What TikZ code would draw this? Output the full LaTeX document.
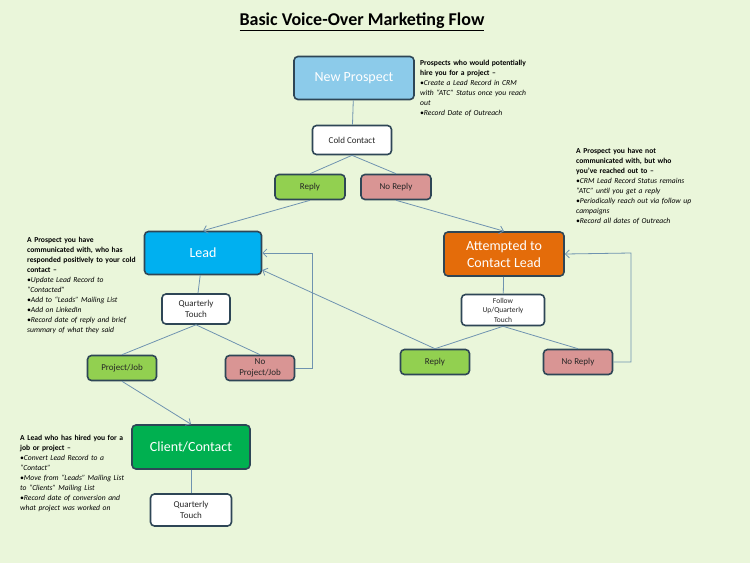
\documentclass[tikz,border=0pt]{standalone}
\usepackage{fontspec}
\setmainfont{Carlito}
\usetikzlibrary{arrows.meta}
\definecolor{bg}{HTML}{EAF6DA}
\definecolor{bd}{HTML}{2E4656}
\definecolor{ln}{HTML}{6F93B0}
\definecolor{np}{HTML}{8CCBEA}
\definecolor{gr}{HTML}{92D050}
\definecolor{pk}{HTML}{D99594}
\definecolor{ld}{HTML}{00B0F0}
\definecolor{or}{HTML}{E46C0A}
\definecolor{cl}{HTML}{00B050}
\begin{document}
\begin{tikzpicture}[x=1pt,y=-1pt,
 box/.style={draw=bd,line width=1.6pt,rounded corners=4pt,align=center,inner sep=1pt,text=black!85},
 big/.style={box,font=\fontsize{14}{17}\selectfont,text=white},
 sm/.style={box,fill=white,font=\fontsize{9}{11}\selectfont},
 ln/.style={draw=ln,line width=0.8pt},
 ar/.style={ln,-{Straight Barb[length=4pt,width=8pt]}},
 note/.style={anchor=north west,align=left,font=\fontsize{7.6}{10}\selectfont,inner sep=0pt}]
\fill[bg] (0,0) rectangle (750,563);
\node[font=\bfseries\fontsize{18}{20}\selectfont] (t) at (362,22) {\underline{Basic Voice-Over Marketing Flow}};
\node[big,fill=np,minimum width=120pt,minimum height=43pt] (np) at (354,78) {New Prospect};
\node[sm,minimum width=79pt,minimum height=29pt] (cc) at (352,140) {Cold Contact};
\node[sm,fill=gr,minimum width=70pt,minimum height=25pt] (r1) at (310,187) {Reply};
\node[sm,fill=pk,minimum width=70pt,minimum height=25pt] (n1) at (396,187) {No Reply};
\node[big,fill=ld,minimum width=117pt,minimum height=43pt] (ld) at (203,253) {Lead};
\node[big,fill=or,minimum width=120pt,minimum height=44pt] (at) at (504,254) {Attempted to\\Contact Lead};
\node[sm,minimum width=68pt,minimum height=30pt] (q1) at (196,309) {Quarterly\\Touch};
\node[sm,fill=gr,minimum width=69pt,minimum height=25pt] (pj) at (122,368) {Project/Job};
\node[sm,fill=pk,minimum width=69pt,minimum height=25pt] (npj) at (260,368) {No\\Project/Job};
\node[sm,minimum width=83pt,minimum height=31pt,font=\fontsize{7.5}{9.5}\selectfont] (fu) at (503,310) {Follow\\Up/Quarterly\\Touch};
\node[sm,fill=gr,minimum width=69pt,minimum height=25pt] (r2) at (435,362) {Reply};
\node[sm,fill=pk,minimum width=69pt,minimum height=25pt] (n2) at (578,362) {No Reply};
\node[big,fill=cl,minimum width=118pt,minimum height=44pt] (cl) at (191,447) {Client/Contact};
\node[sm,minimum width=81pt,minimum height=32pt] (q2) at (191,510) {Quarterly\\Touch};
\coordinate (a1) at (312,368); \coordinate (a2) at (312,253);
\coordinate (b1) at (631,362); \coordinate (b2) at (631,253);
\draw[ln] (np) -- (cc);
\draw[ln] (cc.south) -- (r1.north);
\draw[ln] (cc.south) -- (n1.north);
\draw[ar] (r1.south) -- (ld.north);
\draw[ar] (n1.south) -- (at.north);
\draw[ln] (ld) -- (q1);
\draw[ln] (q1.south) -- (pj.north);
\draw[ln] (q1.south) -- (npj.north);
\draw[ar] (pj.south) -- (cl.north);
\draw[ln] (cl) -- (q2);
\draw[ar] (npj.east) -- (a1) -- (a2) -- (ld.east);
\draw[ln] (at) -- (fu);
\draw[ln] (fu.south) -- (r2.north);
\draw[ln] (fu.south) -- (n2.north);
\draw[ar] (r2.north) -- (ld.east |- 0,270);
\draw[ar] (n2.east) -- (b1) -- (b2) -- (at.east);
\node[note,text width=112pt] (t1) at (420,60) {\raggedright\textbf{Prospects who would potentially hire you for a project –}\\\textit{•Create a Lead Record in CRM with “ATC” Status once you reach out}\\\textit{•Record Date of Outreach}};
\node[note,text width=118pt] (t2) at (576,148) {\raggedright\textbf{A Prospect you have not communicated with, but who you’ve reached out to –}\\\textit{•CRM Lead Record Status remains “ATC” until you get a reply}\\\textit{•Periodically reach out via follow up campaigns}\\\textit{•Record all dates of Outreach}};
\node[note,text width=112pt] (t3) at (27,237) {\raggedright\textbf{A Prospect you have communicated with, who has responded positively to your cold contact –}\\\textit{•Update Lead Record to “Contacted”}\\\textit{•Add to “Leads” Mailing List}\\\textit{•Add on LinkedIn}\\\textit{•Record date of reply and brief summary of what they said}};
\node[note,text width=106pt] (t4) at (20,435) {\raggedright\textbf{A Lead who has hired you for a job or project –}\\\textit{•Convert Lead Record to a “Contact”}\\\textit{•Move from “Leads” Mailing List to “Clients” Mailing List}\\\textit{•Record date of conversion and what project was worked on}};
\end{tikzpicture}
\end{document}
